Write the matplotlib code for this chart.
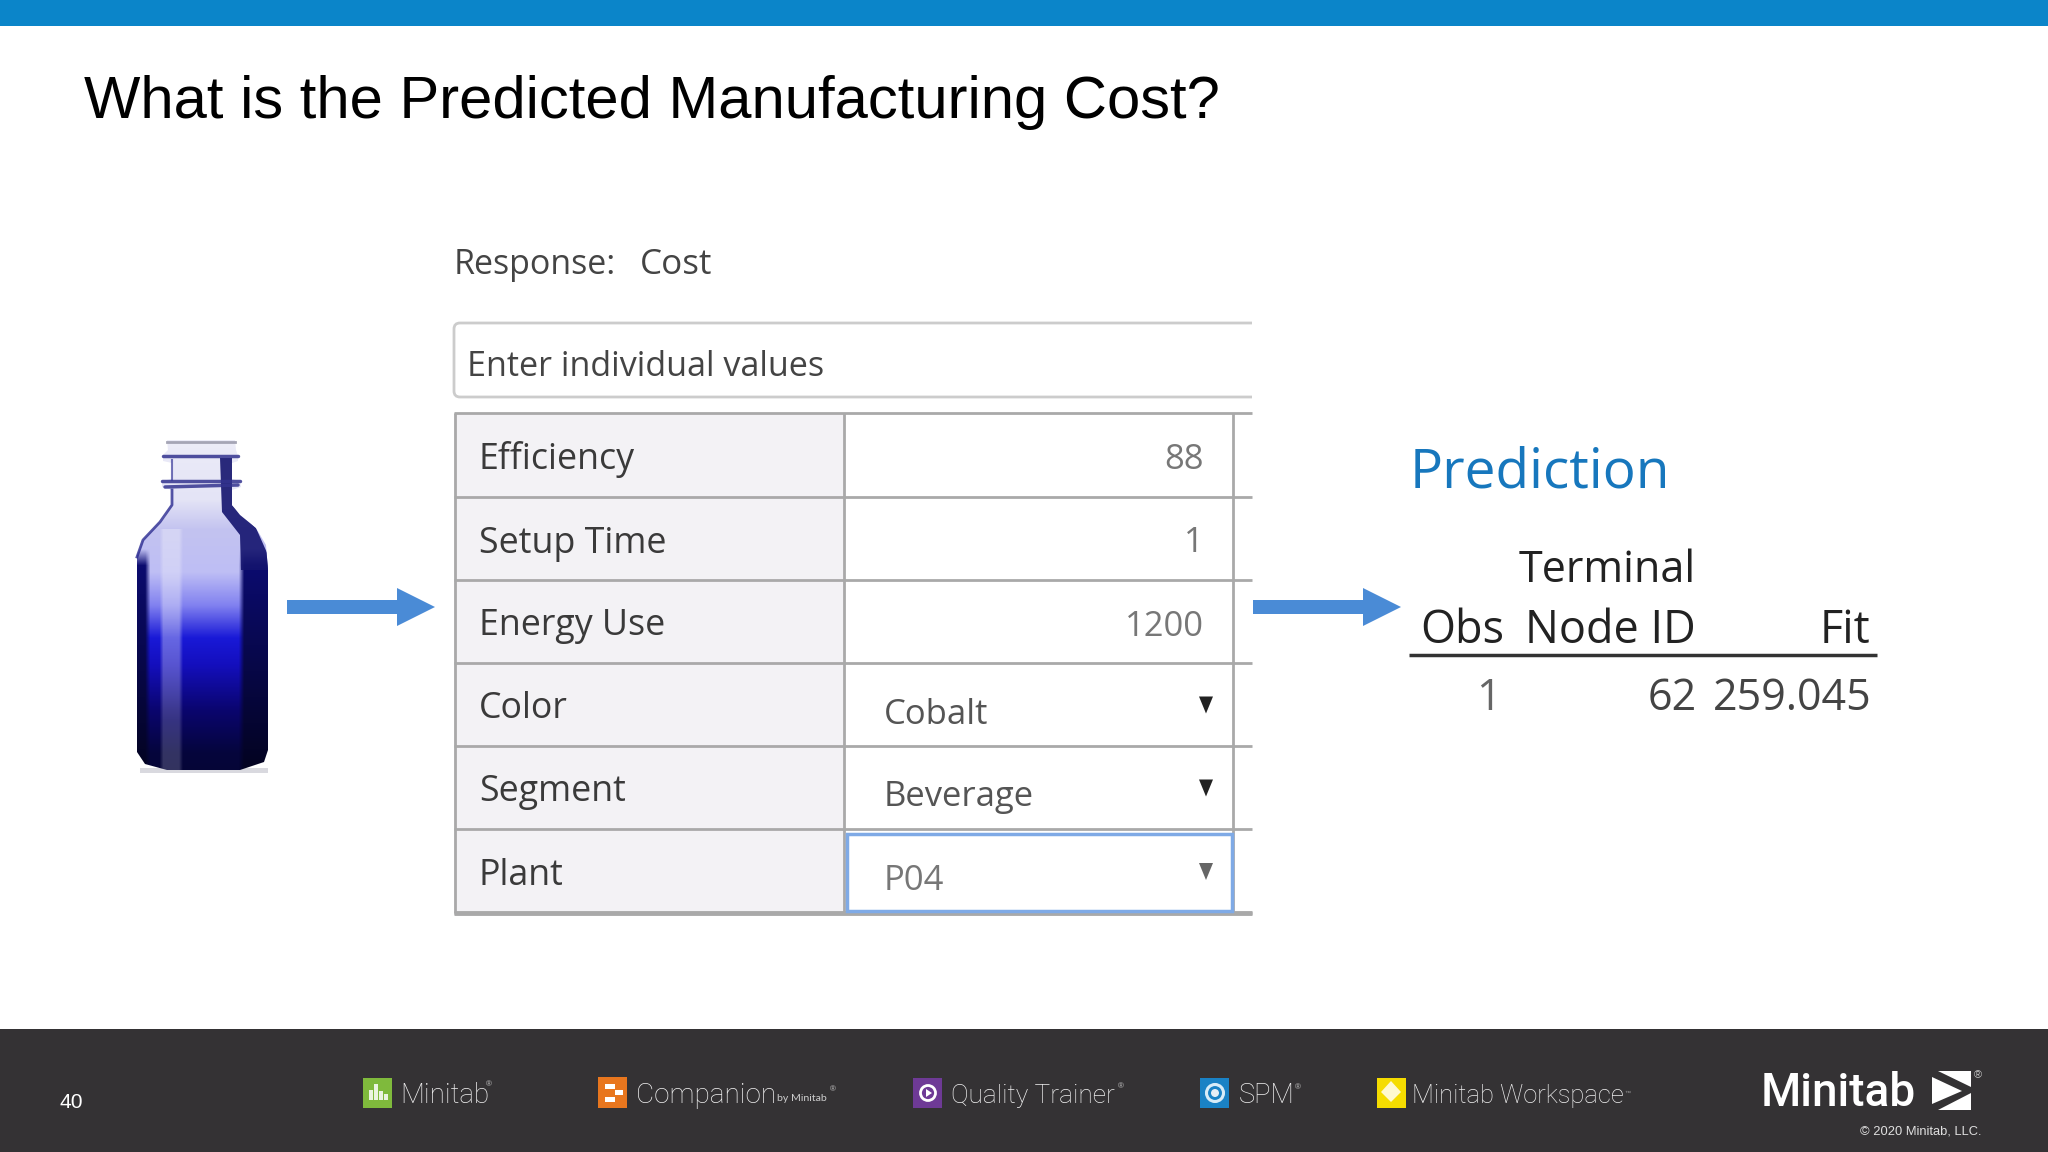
# slide with the prediction dialog, drawn in pixel coordinates
import numpy as np
import matplotlib
matplotlib.use('Agg')
import matplotlib.pyplot as plt
from matplotlib.patches import Rectangle, Polygon, FancyBboxPatch, Circle

title = 'What is the Predicted Manufacturing Cost?'
row_labels = ['Efficiency', 'Setup Time', 'Energy Use', 'Color', 'Segment', 'Plant']
row_values = ['88', '1', '1200', 'Cobalt', 'Beverage', 'P04']
is_dropdown = [False, False, False, True, True, True]
row_edges = [413, 497, 580, 663, 746, 829, 913]

pred_header = ['Obs', 'Node ID', 'Fit']
pred_row = ['1', '62', '259.045']

products = ['Minitab', 'Companion', 'Quality Trainer', 'SPM', 'Minitab Workspace']
product_colors = ['#7fba3c', '#e8761e', '#6e3a96', '#1a82c5', '#f5dc00']
product_icon_x = [363, 598, 913, 1200, 1377]
product_text_x = [400, 636, 951, 1239, 1412]
product_size = [27.8, 27.9, 26.3, 27.3, 25.5]

UI_FONT = 'Open Sans'
ARIAL = 'Liberation Sans'
NAVY = '#14146e'

fig = plt.figure(figsize=(20.48, 11.52), dpi=100, facecolor='white')
ax = fig.add_axes([0, 0, 1, 1])
ax.set_xlim(0, 2048)
ax.set_ylim(1152, 0)
ax.axis('off')


def txt(x, y, s, px, color='#333333', family=UI_FONT, ha='left', va='baseline', **kw):
    ax.text(x, y, s, fontsize=px * 0.72, color=color, family=family, ha=ha, va=va, **kw)


def arrow(x0, x1, head_x, yc):
    ax.add_patch(Polygon([(x0, yc - 7), (head_x, yc - 7), (head_x, yc - 19), (x1, yc),
                          (head_x, yc + 19), (head_x, yc + 7), (x0, yc + 7)],
                         closed=True, fc='#4a8bd6', ec='none', zorder=4))


# top bar, footer
ax.add_patch(Rectangle((0, 0), 2048, 26, fc='#0b85c9', ec='none'))
ax.add_patch(Rectangle((0, 1029), 2048, 123, fc='#343234', ec='none'))
txt(84, 118, title, 59.8, color='black', family=ARIAL)

# bottle, outline
bottle_outline = [(167, 440), (235, 440), (236, 450), (238, 456), (238, 461), (232, 463),
                  (232, 479), (240, 481), (241, 487), (232, 490), (232, 505),
                  (240, 515), (256, 528), (266, 545), (268, 570), (268, 750), (264, 762),
                  (240, 770), (167, 770), (145, 764), (137, 752), (137, 555), (143, 540),
                  (165, 517), (172, 503), (172, 490), (162, 487), (162, 481), (172, 479),
                  (172, 463), (163, 461), (163, 455), (168, 450)]
ax.add_patch(Rectangle((140, 768), 128, 5, fc='#c9c9d2', ec='none', alpha=0.7, zorder=1))
h, w = 330, 131
ys = np.linspace(0, 1, h)[:, None]
xs = np.linspace(0, 1, w)[None, :]
stops_y = [0, 0.18, 0.27, 0.4, 0.5, 0.6, 0.68, 0.82, 0.95, 1]
stops_r = [236, 228, 195, 190, 130, 25, 20, 10, 5, 5]
stops_g = [236, 228, 195, 190, 130, 25, 15, 5, 5, 5]
stops_b = [248, 246, 240, 245, 240, 215, 190, 110, 60, 55]
img = np.dstack([np.interp(ys, stops_y, c) * np.ones((h, w)) for c in (stops_r, stops_g, stops_b)]) / 255
dark_blue = np.array([0.05, 0.05, 0.5])
# pale stripe, then dark sides of the body
stripe = np.clip((xs - 0.17) / 0.03, 0, 1) * np.clip((0.35 - xs) / 0.03, 0, 1)
stripe = stripe * (ys > 0.27) * np.clip(1 - (ys - 0.3) / 0.85, 0.35, 1) * 0.6
stripe = stripe[..., None]
img = img * (1 - stripe) + np.array([0.88, 0.88, 0.97]) * stripe
fade = np.clip((ys - 0.33) / 0.05, 0, 1)
left = np.clip((0.1 - xs) / 0.04, 0, 1) * fade
right = np.clip((xs - 0.78) / 0.04, 0, 1) * fade
dark = np.maximum(left, right)[..., None]
img = img * (1 - dark) + dark_blue * np.clip(1.25 - ys, 0.25, 1)[..., None] * dark
im = ax.imshow(img, extent=(137, 268, 770, 440), aspect='auto', zorder=2, interpolation='bilinear')
clip = Polygon(bottle_outline, closed=True, fc='none', ec='none')
ax.add_patch(clip)
im.set_clip_path(clip)
ax.set_xlim(0, 2048)
ax.set_ylim(1152, 0)
# dark right side of the neck and shoulder
right_band = Polygon([(220, 458), (232, 458), (232, 505), (256, 528), (268, 555), (268, 570),
                      (241, 570), (240, 535), (222, 512)],
                     closed=True, fc=NAVY, ec='none', alpha=0.9, zorder=3)
ax.add_patch(right_band)
right_band.set_clip_path(clip)
for y0, y1, x0, x1 in ((456, 459, 163, 238), (481, 484, 162, 240), (487, 488, 165, 238)):
    ax.plot([x0, x1], [y0, y1 - 3], color='#33338f', lw=2.5, alpha=0.85, zorder=3, solid_capstyle='round')
ax.plot([167, 235], [442, 442], color='#a5a5b5', lw=2, zorder=3)
ax.plot([172, 172, 160, 143, 137], [490, 505, 522, 540, 557], color='#2a2a90', lw=2, alpha=0.8, zorder=3)
ax.plot([172, 172], [460, 480], color='#3a3a9a', lw=1.5, alpha=0.7, zorder=3)

arrow(287, 435, 397, 607)
arrow(1253, 1401, 1363, 607)

# dialog
txt(454, 274, 'Response:', 34, color='#444444')
txt(640, 274, 'Cost', 35, color='#444444')
ax.add_patch(FancyBboxPatch((454, 323), 830, 74, boxstyle='round,pad=0,rounding_size=6',
                            fc='white', ec='#cccccc', lw=2))
ax.add_patch(Rectangle((1252, 315), 40, 90, fc='white', ec='none', zorder=2))
txt(467, 376, 'Enter individual values', 34.1, color='#444444')

GRID = '#a9a9a9'
ax.add_patch(Rectangle((454, 413), 390, 500, fc='#f3f2f5', ec='none'))
for ye in row_edges:
    ax.plot([454, 1252], [ye, ye], color=GRID, lw=2, solid_capstyle='butt')
for xe in (455, 844, 1233):
    ax.plot([xe, xe], [413, 913], color=GRID, lw=2, solid_capstyle='butt')
ax.plot([454, 1252], [913, 913], color=GRID, lw=3.5, solid_capstyle='butt')

for i, (lab, val) in enumerate(zip(row_labels, row_values)):
    yc = (row_edges[i] + row_edges[i + 1]) / 2
    txt(479, yc + 14, lab, 35.7, color='#3a3a3a')
    if is_dropdown[i]:
        grey = '#555555' if i < 5 else '#777777'
        txt(884, yc + 19, val, 34.7, color=grey)
        ax.add_patch(Polygon([(1199, yc - 8), (1213, yc - 8), (1206, yc + 9)], closed=True,
                             fc='#222222' if i < 5 else '#666666', ec='none'))
    else:
        txt(1204, yc + 14, val, 34.5, color='#777777', ha='right')

# focused cell
ax.add_patch(Rectangle((847, 834), 385, 77, fc='none', ec='#7faae6', lw=2.5, zorder=4))

# prediction output
txt(1410, 487, 'Prediction', 55, color='#1777bd')
txt(1519, 582, 'Terminal', 43, color='#222222')
txt(1420, 643, pred_header[0], 45, color='#222222')
txt(1696, 643, pred_header[1], 45, color='#222222', ha='right')
txt(1870, 643, pred_header[2], 45, color='#222222', ha='right')
ax.plot([1409, 1877], [655, 655], color='#333333', lw=2.5, solid_capstyle='butt')
txt(1488, 710, pred_row[0], 43, color='#666666', ha='center')
txt(1697, 710, pred_row[1], 43, color='#444444', ha='right')
txt(1872, 710, pred_row[2], 43, color='#444444', ha='right')

# footer text and icons
txt(59, 1108, '40', 21, color='white', family=ARIAL)
for name, col, ix, tx, px in zip(products, product_colors, product_icon_x, product_text_x, product_size):
    ax.add_patch(Rectangle((ix, 1078), 29, 30, fc=col, ec='none'))
    txt(tx, 1103, name, px, color='#f0f0f0', family='Roboto', fontweight='light')
ax.add_patch(Rectangle((598, 1077), 29, 30, fc=product_colors[1], ec='none'))
txt(777, 1101, 'by Minitab', 10.5, color='#cfcfcf', family='Lato')

# icon details
for bx, bh in zip((369, 374, 379, 384), (10, 16, 9, 6)):
    ax.add_patch(Rectangle((bx, 1100 - bh), 3.5, bh, fc='white', ec='none', alpha=0.85))
for bx, by, bw in ((605, 1084, 10), (615, 1090, 8), (605, 1097, 10)):
    ax.add_patch(Rectangle((bx, by), bw, 4.5, fc='white', ec='none'))
ax.add_patch(Circle((928, 1093), 7.5, fc='none', ec='white', lw=2))
ax.add_patch(Polygon([(926, 1089), (926, 1097), (932, 1093)], closed=True, fc='white', ec='none'))
ax.add_patch(Circle((1215, 1093), 8.5, fc='none', ec='#d8ecf8', lw=2.2))
ax.add_patch(Circle((1215, 1093), 4, fc='#e6eef5', ec='none'))
ax.add_patch(Polygon([(1391, 1081), (1401, 1092), (1391, 1102), (1381, 1092)], closed=True,
                     fc='#fff9d0', ec='none'))

# reg marks
for rx, ry in ((489, 1085), (833, 1090), (1121, 1087), (1298, 1088)):
    txt(rx, ry, '®', 8, color='#c8c8c8', family=ARIAL, ha='center', va='center')
txt(1627, 1093, '™', 6, color='#a5a5a5', family=ARIAL, ha='center', va='center')

# company logo
txt(1761, 1106, 'Minitab', 46, color='white', family='Roboto', fontweight='medium')
ax.add_patch(Polygon([(1932, 1077), (1962, 1091), (1932, 1104)], closed=True, fc='white', ec='none'))
ax.add_patch(Polygon([(1938, 1071), (1971, 1071), (1971, 1087)], closed=True, fc='white', ec='none'))
ax.add_patch(Polygon([(1971, 1093), (1971, 1110), (1938, 1110)], closed=True, fc='white', ec='none'))
txt(1978, 1075, '®', 11, color='#c8c8c8', family=ARIAL, ha='center', va='center')
txt(1860, 1134, '© 2020 Minitab, LLC.', 12.9, color='#e0e0e0', family=ARIAL)

fig.savefig('out.png', dpi=100)
